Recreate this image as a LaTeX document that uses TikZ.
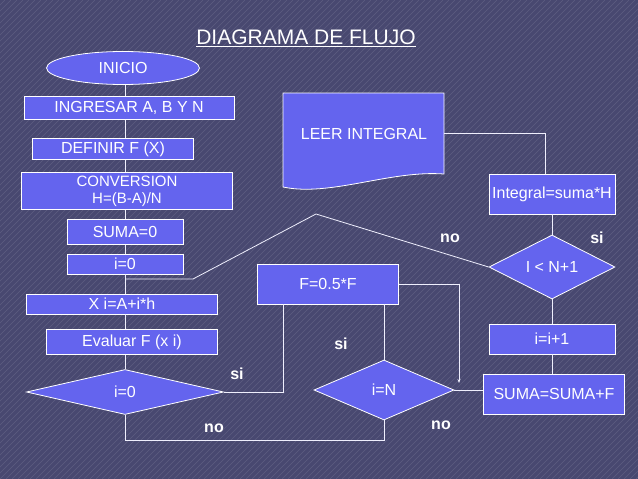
\documentclass[tikz,border=0pt]{standalone}
\usepackage{fontspec}
\setmainfont{Liberation Sans}
\usetikzlibrary{shapes.geometric,arrows.meta}
\definecolor{bg}{RGB}{72,72,112}
\definecolor{bx}{RGB}{100,100,238}
\begin{document}
\begin{tikzpicture}[x=1pt,y=-1pt,
  box/.style={draw=white,line width=0.8pt,fill=bx,text=white,inner sep=0pt,font=\fontsize{16}{19}\selectfont,align=center},
  dia/.style={box,diamond,aspect=2.4},
  ln/.style={draw=white!90!bx,line width=0.8pt},
  lab/.style={text=white,font=\bfseries\fontsize{16}{19}\selectfont}]
\fill[bg] (0,0) rectangle (638,479);
\begin{scope}
\clip (0,0) rectangle (638,479);
\foreach \k in {-480,-474,...,640} \draw[white,opacity=0.12,line width=0.4pt] (\k,479) -- (\k+479,0);
\end{scope}
\useasboundingbox (0,0) rectangle (638,479);
\node[text=white,font=\fontsize{21}{24}\selectfont] (title) at (306,38) {\underline{DIAGRAMA DE FLUJO}};
\node[box,ellipse,minimum width=153pt,minimum height=33pt] (inicio) at (123,68) {INICIO};
\node[box,minimum width=210pt,minimum height=23pt] (ing) at (129,108) {INGRESAR A, B Y N};
\node[box,minimum width=161pt,minimum height=21pt] (def) at (113,149) {DEFINIR F (X)};
\node[box,minimum width=211pt,minimum height=37pt,font=\fontsize{15}{17}\selectfont] (conv) at (127,191) {CONVERSION\\H=(B-A)/N};
\node[box,minimum width=116pt,minimum height=25pt] (suma0) at (125,232) {SUMA=0};
\node[box,minimum width=116pt,minimum height=20pt] (i0) at (125,264) {i=0};
\node[box,minimum width=191pt,minimum height=20pt] (xi) at (122,304) {X i=A+i*h};
\node[box,minimum width=171pt,minimum height=25pt] (eval) at (132,342) {Evaluar F (x i)};
\node[dia,minimum width=197pt,minimum height=45pt,aspect=4.4] (d1) at (125,392) {i=0};
\node[box,minimum width=141pt,minimum height=40pt] (f05) at (328,284) {F=0.5*F};
\node[dia,minimum width=140pt,minimum height=60pt] (d2) at (384,390) {i=N};
\node[box,minimum width=126pt,minimum height=40pt] (integ) at (552,194) {Integral=suma*H};
\node[dia,minimum width=126pt,minimum height=64pt,aspect=2] (d3) at (552,267) {I < N+1};
\node[box,minimum width=126pt,minimum height=30pt] (inc) at (552,339) {i=i+1};
\node[box,minimum width=141pt,minimum height=40pt] (sumf) at (554,394) {SUMA=SUMA+F};
\draw[draw=white,line width=0.8pt,fill=bx] (283,93) -- (444,93) -- (444,174) .. controls (390,170) and (330,197) .. (283,187) -- cycle;
\node[text=white,font=\fontsize{16}{19}\selectfont,inner sep=0pt] (leer) at (364,134) {LEER INTEGRAL};
\coordinate (leerR) at (444,133);
\coordinate (ax) at (125,0);
\coordinate (ax2) at (552,0);
% connectors
\draw[ln] (inicio.south-|ax) -- (ing.north-|ax);
\draw[ln] (ing.south-|ax) -- (def.north-|ax);
\draw[ln] (def.south-|ax) -- (conv.north-|ax);
\draw[ln] (conv.south-|ax) -- (suma0.north-|ax);
\draw[ln] (suma0.south-|ax) -- (i0.north-|ax);
\draw[ln] (i0.south-|ax) -- (xi.north-|ax);
\draw[ln] (xi.south-|ax) -- (eval.north-|ax);
\draw[ln] (eval.south-|ax) -- (d1.north);
\coordinate (b1) at (193,279);
\coordinate (b2) at (316,214);
\draw[ln] (125,279) -- (b1) -- (b2) -- (d3.west);
\coordinate (c1) at (283,392);
\draw[ln] (d1.east) -- (c1) -- (c1|-f05.south);
\coordinate (c2) at (125,440);
\coordinate (c3) at (384,440);
\draw[ln] (d1.south) -- (c2) -- (c3) -- (d2.south);
\draw[ln] (f05.south-|d2) -- (d2.north);
\coordinate (c4) at (459,284);
\coordinate (c5) at (459,383);
\draw[ln,-{Stealth[length=4pt]}] (f05.east) -- (c4) -- (c5);
\draw[ln] (d2.east) -- (sumf.west|-d2.east);
\draw[ln] (sumf.north-|ax2) -- (inc.south-|ax2);
\draw[ln] (inc) -- (d3);
\draw[ln] (d3) -- (integ);
\coordinate (c6) at (545,133);
\draw[ln] (integ.north-|c6) -- (c6) -- (leerR);
\node[lab] (l1) at (450,238) {no};
\node[lab] (l2) at (597,238) {si};
\node[lab] (l3) at (237,374) {si};
\node[lab] (l4) at (214,428) {no};
\node[lab] (l5) at (341,344) {si};
\node[lab] (l6) at (441,425) {no};
\end{tikzpicture}
\end{document}
